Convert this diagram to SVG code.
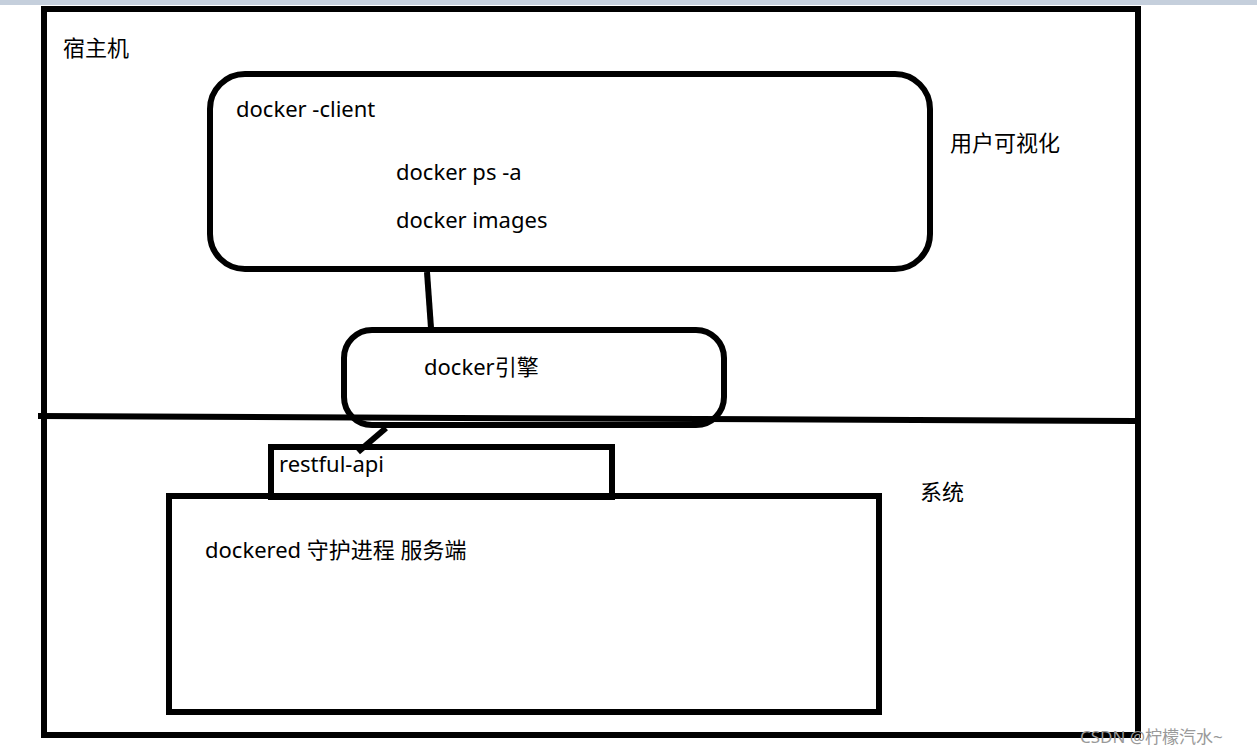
<svg xmlns="http://www.w3.org/2000/svg" width="1257" height="754" viewBox="0 0 1257 754">
<style>
.s{fill:none;stroke:#000;stroke-width:6}
.t{font-family:"Noto Sans","Noto Sans CJK SC",sans-serif;font-size:22px;fill:#000}
.w{font-family:"Noto Sans","Noto Sans CJK SC",sans-serif;font-size:17px;fill:#999}
</style>
<rect x="0" y="0" width="1257" height="754" fill="#fff"/>
<rect x="0" y="0" width="1257" height="5" fill="#c5cfdc"/>
<g id="host"><rect class="s" x="44" y="9" width="1094" height="726"/><text class="t" x="63" y="56">宿主机</text></g>
<g id="divider"><path class="s" d="M38 416 L1136 421"/></g>
<g id="client"><rect class="s" x="210" y="74" width="720" height="195" rx="35"/>
<text class="t" x="236" y="117">docker -client</text>
<text class="t" x="396" y="180">docker ps -a</text>
<text class="t" x="396" y="228">docker images</text></g>
<g id="visual"><text class="t" x="950" y="151">用户可视化</text></g>
<g id="engine"><rect class="s" x="344" y="330" width="380" height="95" rx="28"/><text class="t" x="424" y="375">docker引擎</text></g>
<g id="api"><rect class="s" x="271" y="447" width="341" height="50"/><text class="t" x="279" y="472">restful-api</text></g>
<g id="system"><text class="t" x="920" y="500">系统</text></g>
<g id="daemon"><rect class="s" x="169" y="496" width="710" height="216"/><text class="t" x="205" y="558">dockered 守护进程 服务端</text></g>
<g id="connectors"><path class="s" d="M427 272 L431 328"/><path class="s" d="M386 428 L358 452"/></g>
<text class="w" x="1080" y="743">CSDN @柠檬汽水~</text>
</svg>
